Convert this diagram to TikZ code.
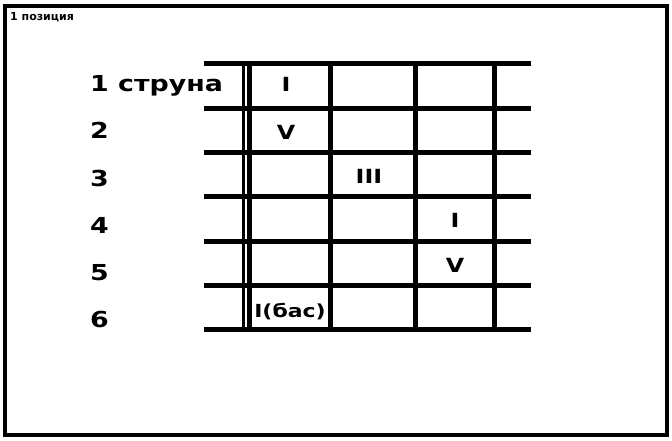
\documentclass[tikz,border=0pt]{standalone}
\usepackage{fontspec}
\setmainfont{DejaVu Sans}
\newfontfamily\handFont[FakeStretch=1.22]{DejaVu Sans}
\newcommand{\stringLine}[1]{%%
  \draw[stringStyle] (\xleft,{#1}) -- (\xright,{#1});
}
\newcommand{\fretLine}[2]{%%
  \draw[#2] (#1,\ytop) -- (#1,\ybottom);
}
\newcommand{\stringLabel}[3]{%%
  \node[labelStyle] (#1) at (\xlabel,#2) {#3};
}

\begin{document}
\begin{tikzpicture}[%%
  x=1pt,y=-1pt,%%
  frameStyle/.style={line width=4pt},%%
  stringStyle/.style={line width=5pt},%%
  fretStyle/.style={line width=5pt},%%
  nutStyle/.style={line width=3pt},%%
  labelStyle/.style={anchor=base west,inner sep=0pt,font=\handFont\bfseries\fontsize{22}{22}\selectfont},%%
  markStyle/.style={anchor=base,inner sep=0pt,font=\handFont\bfseries\fontsize{19.5}{19.5}\selectfont},%%
  titleStyle/.style={anchor=base west,inner sep=0pt,font=\bfseries\fontsize{11}{11}\selectfont}
]
%%
\pgfmathsetmacro{\xleft}{204}
\pgfmathsetmacro{\xright}{531}
\pgfmathsetmacro{\ytop}{64}
\pgfmathsetmacro{\ybottom}{330}
\pgfmathsetmacro{\xlabel}{90}
%%
\useasboundingbox (0,0) rectangle (672,441);
%% The frame and its title.
\draw[frameStyle] (5,6.5) rectangle (667,434.5);
\node[titleStyle] (title) at (10,21) {1 позиция};
%%
%% The strings.
\foreach \s in {0,...,6}{
  \stringLine{\ytop+44.33*\s}
};
%% The nut and the frets.
\fretLine{243.5}{nutStyle}
\fretLine{249}{fretStyle}
\foreach \f in {330.5,415,494.5}{
  \fretLine{\f}{fretStyle}
};
%%
%% String numbers.
\stringLabel{string1}{92}{1 струна}
\stringLabel{string2}{139}{2}
\stringLabel{string3}{186}{3}
\stringLabel{string4}{233}{4}
\stringLabel{string5}{280}{5}
\stringLabel{string6}{327}{6}
%%
%% Fingers on the frets.
\node[markStyle] (mark1) at (286,92) {I};
\node[markStyle] (mark2) at (286,140) {V};
\node[markStyle] (mark3) at (369,183) {III};
\node[markStyle] (mark4) at (455,227) {I};
\node[markStyle] (mark5) at (455,272) {V};
\node[markStyle,font=\handFont\bfseries\fontsize{18}{18}\selectfont] (mark6) at (290,317) {I(бас)};
\end{tikzpicture}
\end{document}
